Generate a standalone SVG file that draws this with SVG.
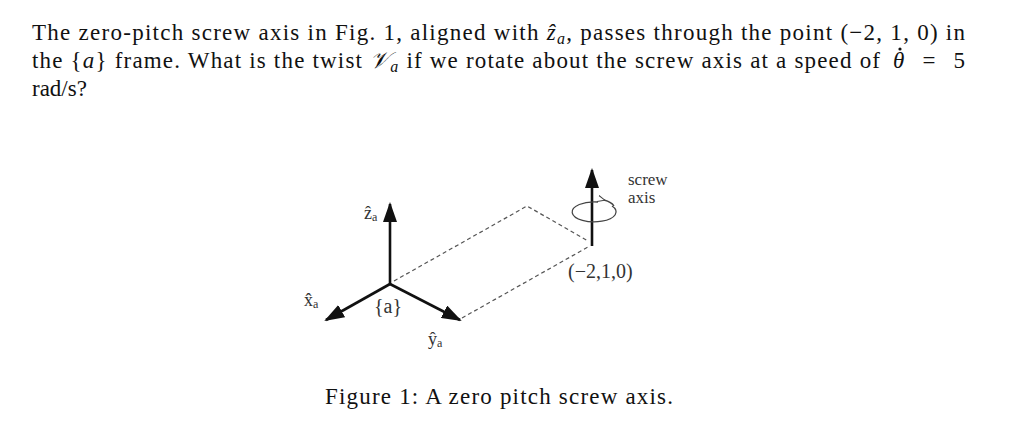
<svg xmlns="http://www.w3.org/2000/svg" width="1024" height="434" viewBox="0 0 1024 434">
<defs>
<marker id="ab" viewBox="0 0 10 10" refX="9" refY="5" markerWidth="20" markerHeight="14" orient="auto" markerUnits="userSpaceOnUse" preserveAspectRatio="none"><path d="M0,0 L10,5 L0,10 Z" fill="#111"/></marker>
<marker id="sm" viewBox="0 0 10 10" refX="8" refY="5" markerWidth="8" markerHeight="8" orient="auto" markerUnits="userSpaceOnUse"><path d="M0,1 L9,5 L0,9" fill="none" stroke="#444" stroke-width="1.3"/></marker>
</defs>
<style>
.t{font-family:"Liberation Serif",serif;font-size:23px;fill:#111}
.l{font-family:"Liberation Serif",serif;fill:#333}
.ax{stroke:#111;stroke-width:2.6;fill:none}
.d{stroke:#555;stroke-width:1.2;stroke-dasharray:4,3;fill:none}
</style>
<rect width="1024" height="434" fill="#fff"/>
<text class="t" x="32" y="40" textLength="933" lengthAdjust="spacing">The zero-pitch screw axis in Fig. 1, aligned with <tspan font-style="italic">ẑ</tspan><tspan font-style="italic" font-size="16" dy="4">a</tspan><tspan dy="-4">, passes through the point (−2, 1, 0) in</tspan></text>
<text class="t" x="32" y="68" textLength="848" lengthAdjust="spacing">the {<tspan font-style="italic">a</tspan>} frame. What is the twist <tspan font-style="italic">𝒱</tspan><tspan font-style="italic" font-size="16" dy="4">a</tspan><tspan dy="-4"> if we rotate about the screw axis at a speed of</tspan></text>
<text class="t" x="893" y="68" textLength="72" lengthAdjust="spacing"><tspan font-style="italic">θ</tspan> = 5</text>
<circle cx="900" cy="49" r="1.6" fill="#111"/>
<text class="t" x="32" y="96">rad/s?</text>
<g id="connectors">
<path class="d" d="M394,281 L527,206 L588,241"/>
<path class="d" d="M462,318 L588,247"/>
</g>
<g id="frame">
<line class="ax" x1="390" y1="284" x2="390" y2="204" marker-end="url(#ab)"/>
<line class="ax" x1="390" y1="284" x2="326" y2="320" marker-end="url(#ab)"/>
<line class="ax" x1="390" y1="284" x2="460" y2="320" marker-end="url(#ab)"/>
<text class="l" x="364" y="219" font-size="18">ẑ<tspan font-size="12" dy="2">a</tspan></text>
<text class="l" x="304" y="306" font-size="18">x̂<tspan font-size="12" dy="2">a</tspan></text>
<text class="l" x="428" y="345" font-size="18">ŷ<tspan font-size="12" dy="2">a</tspan></text>
<text class="l" x="374" y="313" font-size="20">{a}</text>
</g>
<g id="screw">
<line class="ax" x1="592" y1="246" x2="592" y2="170" marker-end="url(#ab)"/>
<path d="M598,202 A22,10 0 1,0 612,206" fill="none" stroke="#444" stroke-width="1.3"/>
<path d="M604,200 A22,10 0 0,1 614,206" fill="none" stroke="#444" stroke-width="1.3" marker-start="url(#sm)"/>
<text class="l" x="628" y="185" font-size="17">screw</text>
<text class="l" x="628" y="203" font-size="17">axis</text>
<text class="l" x="568" y="278" font-size="20">(−2,1,0)</text>
</g>
<text class="t" x="325" y="404" textLength="348" lengthAdjust="spacing">Figure 1: A zero pitch screw axis.</text>
</svg>
